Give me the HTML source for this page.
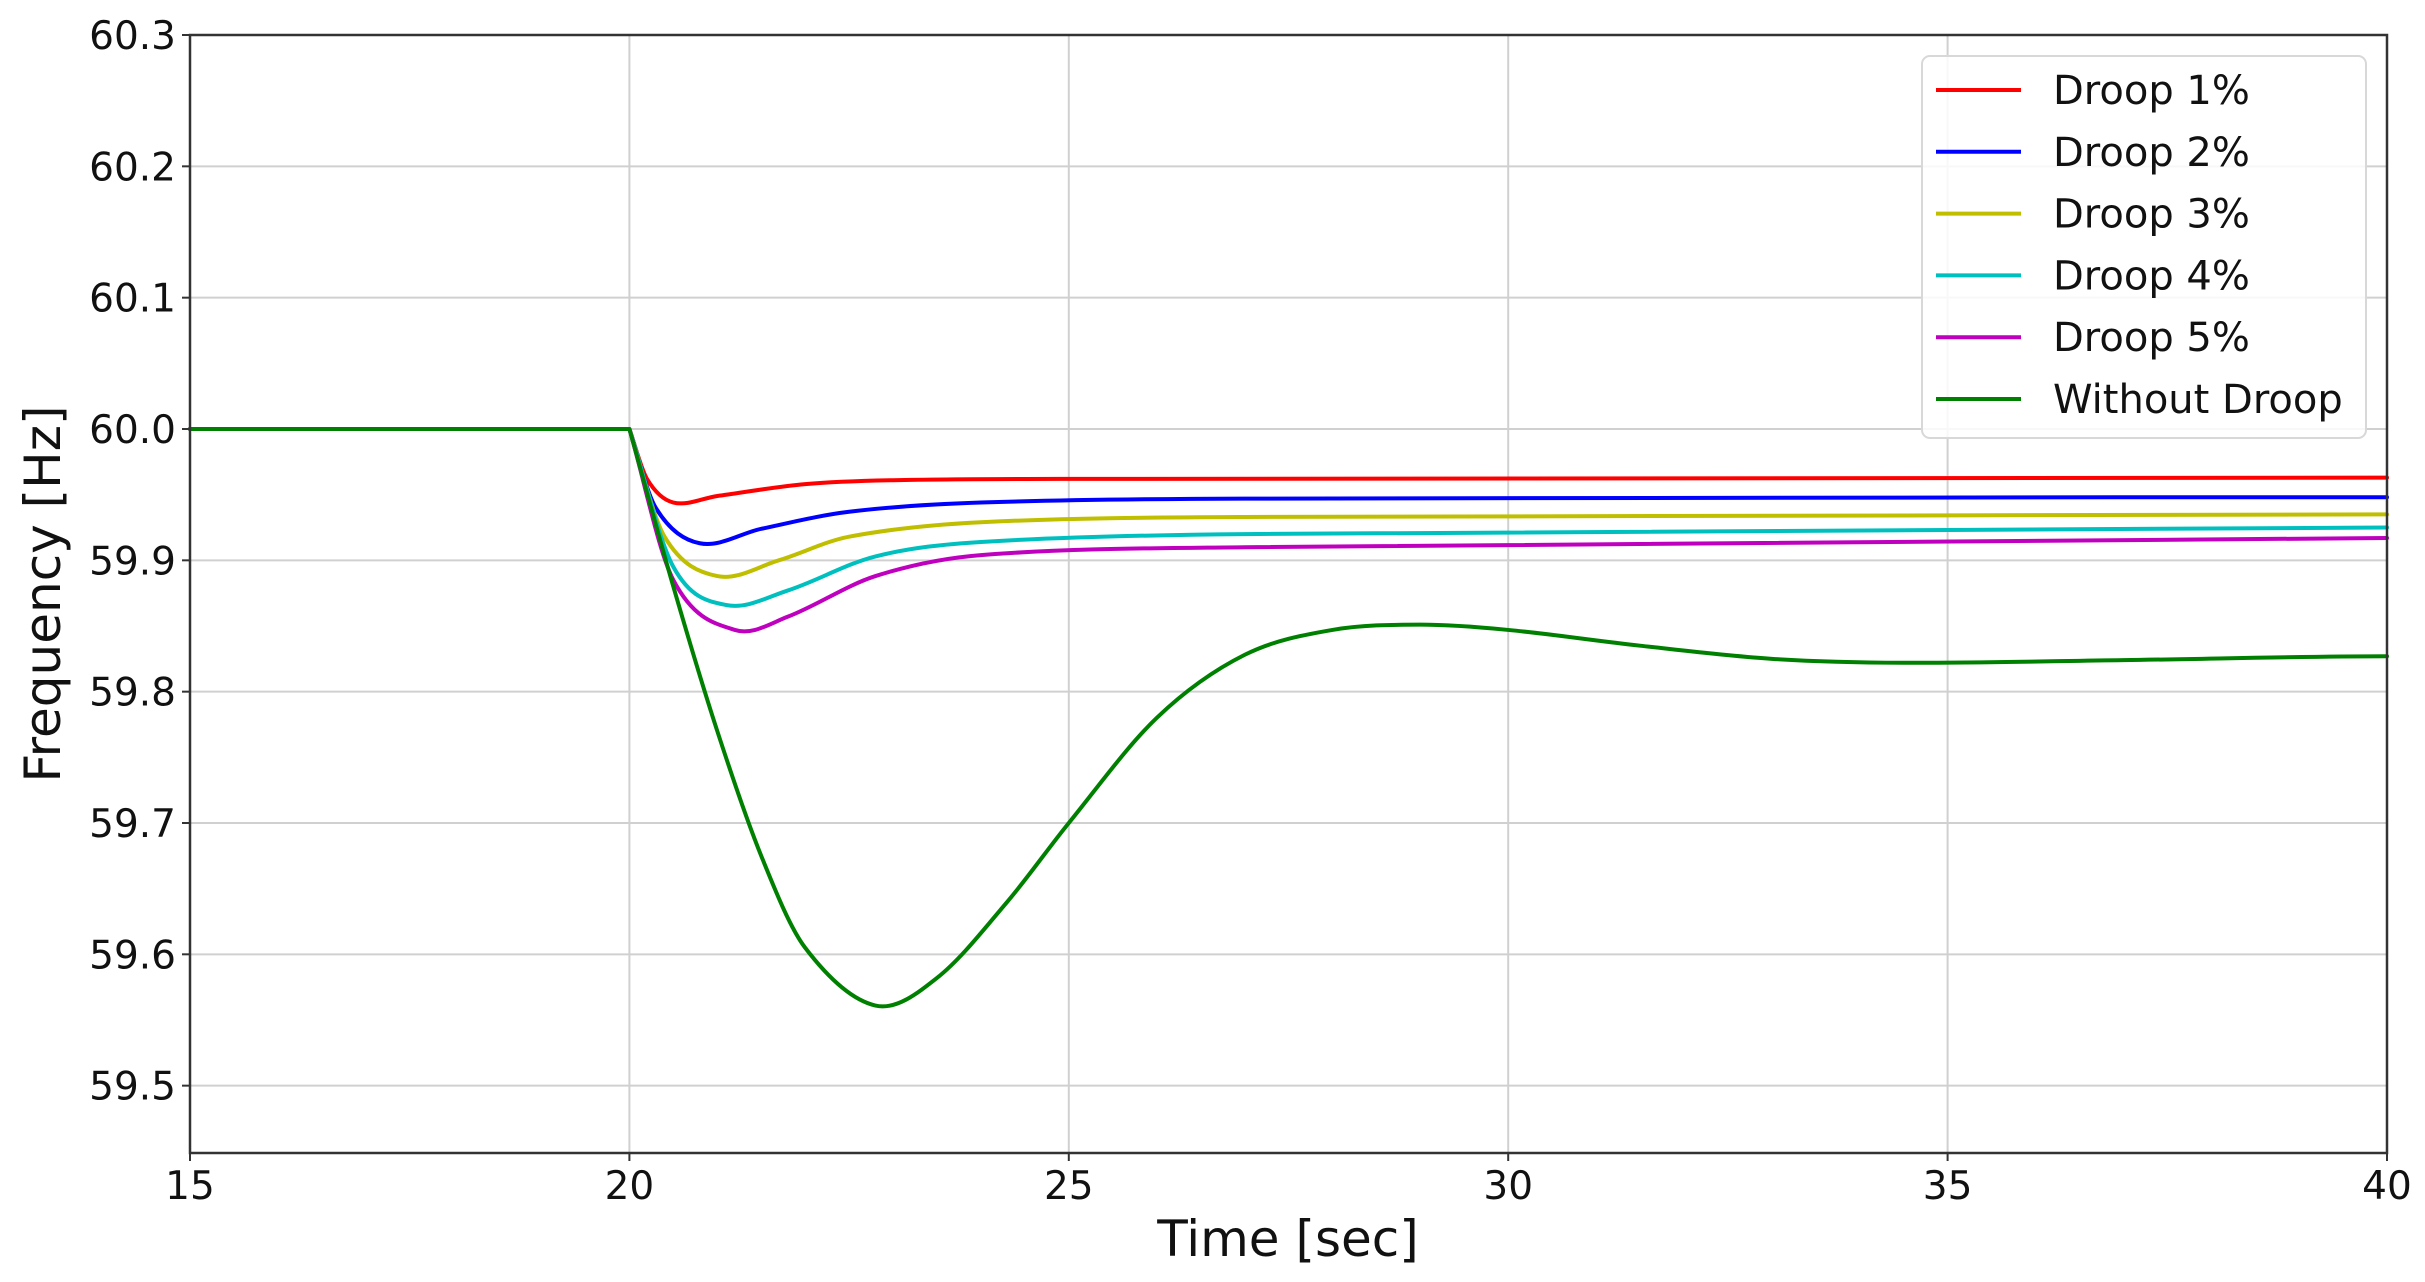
<!DOCTYPE html>
<html><head><meta charset="utf-8"><style>
html,body{margin:0;padding:0;background:#fff;}
svg{display:block;font-family:"DejaVu Sans","Liberation Sans",sans-serif;}
</style></head><body>
<svg id="s" width="2425" height="1282" viewBox="0 0 2425 1282" xmlns="http://www.w3.org/2000/svg">
<g id="grid" stroke="#d0d0d0" stroke-width="2"></g>
<g id="curves" fill="none" stroke-width="4" stroke-linejoin="round" stroke-linecap="round"></g>
<rect x="190" y="35" width="2197" height="1118" fill="none" stroke="#333" stroke-width="2.5"/>
<g id="ticks" font-size="39" fill="#111"></g>
<text x="1288" y="1256" font-size="50" text-anchor="middle" fill="#111">Time [sec]</text>
<text transform="translate(60,594) rotate(-90)" font-size="50" text-anchor="middle" fill="#111">Frequency [Hz]</text>
<g id="legend">
<rect x="1922" y="56" width="444" height="382" rx="8" fill="#fff" fill-opacity="0.85" stroke="#d8d8d8" stroke-width="2"/>
</g>
</svg>
<script>
var X=function(t){return 190+(t-15)*87.88;};
var Y=function(f){return 429-(f-60)*1313.3;};
var ns="http://www.w3.org/2000/svg";
function el(p,n,a,txt){var e=document.createElementNS(ns,n);for(var k in a)e.setAttribute(k,a[k]);if(txt)e.textContent=txt;document.getElementById(p).appendChild(e);}
for(var t=20;t<=35;t+=5)el("grid","line",{x1:X(t),x2:X(t),y1:35,y2:1153});
for(var i=0;i<=8;i++){var f=59.5+i*0.1;el("grid","line",{x1:190,x2:2387,y1:Y(f),y2:Y(f)});
 el("ticks","text",{x:176,y:Y(f)+14,"text-anchor":"end"},f.toFixed(1));
 el("ticks","line",{x1:182,x2:190,y1:Y(f),y2:Y(f),stroke:"#333","stroke-width":2});}
for(var t=15;t<=40;t+=5){el("ticks","text",{x:X(t),y:1199,"text-anchor":"middle"},String(t));
 el("ticks","line",{x1:X(t),x2:X(t),y1:1153,y2:1161,stroke:"#333","stroke-width":2});}
function sp(pts){var n=pts.length,m=[];
 for(var i=0;i<n;i++){var a=pts[Math.max(0,i-1)],b=pts[Math.min(n-1,i+1)];
  m.push(i==0?0:(b[1]-a[1])/(b[0]-a[0]));}
 m[0]=(pts[1][1]-pts[0][1])/(pts[1][0]-pts[0][0]);m[n-1]=0;
 var d="M"+X(15)+","+Y(60)+" L"+X(pts[0][0])+","+Y(pts[0][1]);
 for(var i=0;i<n-1;i++){var h=pts[i+1][0]-pts[i][0];
  d+=" C"+X(pts[i][0]+h/3)+","+Y(pts[i][1]+m[i]*h/3)+" "+X(pts[i+1][0]-h/3)+","+Y(pts[i+1][1]-m[i+1]*h/3)+" "+X(pts[i+1][0])+","+Y(pts[i+1][1]);}
 return d;}
var S=[
["#ff0000","Droop 1%",[[20,60],[20.2,59.962],[20.5,59.944],[21,59.949],[22,59.958],[23,59.961],[25,59.962],[40,59.963]]],
["#0000ff","Droop 2%",[[20,60],[20.3,59.94],[20.8,59.913],[21.5,59.924],[22.5,59.937],[24,59.944],[27,59.947],[40,59.948]]],
["#bfbf00","Droop 3%",[[20,60],[20.4,59.918],[21,59.888],[21.7,59.9],[22.5,59.918],[24,59.929],[27,59.933],[40,59.935]]],
["#00bfbf","Droop 4%",[[20,60],[20.5,59.895],[21.1,59.866],[21.8,59.877],[22.8,59.903],[24,59.914],[27,59.92],[40,59.925]]],
["#bf00bf","Droop 5%",[[20,60],[20.5,59.885],[21.2,59.847],[21.8,59.857],[22.8,59.888],[24,59.904],[27,59.91],[40,59.917]]],
["#008000","Without Droop",[[20,60],[20.5,59.88],[21,59.77],[21.5,59.675],[22,59.605],[22.8,59.561],[23.5,59.582],[24.3,59.64],[25,59.7],[26,59.78],[27,59.828],[28,59.847],[29,59.851],[30,59.847],[31.5,59.835],[33,59.825],[34.5,59.822],[37,59.824],[40,59.827]]]
];
S.forEach(function(s,i){el("curves","path",{d:sp(s[2]),stroke:s[0]});
 var y=90+i*61.8;
 el("legend","line",{x1:1936,x2:2021,y1:y,y2:y,stroke:s[0],"stroke-width":4});
 el("legend","text",{x:2053,y:y+14,"font-size":40,fill:"#111"},s[1]);});
</script>
</body></html>
